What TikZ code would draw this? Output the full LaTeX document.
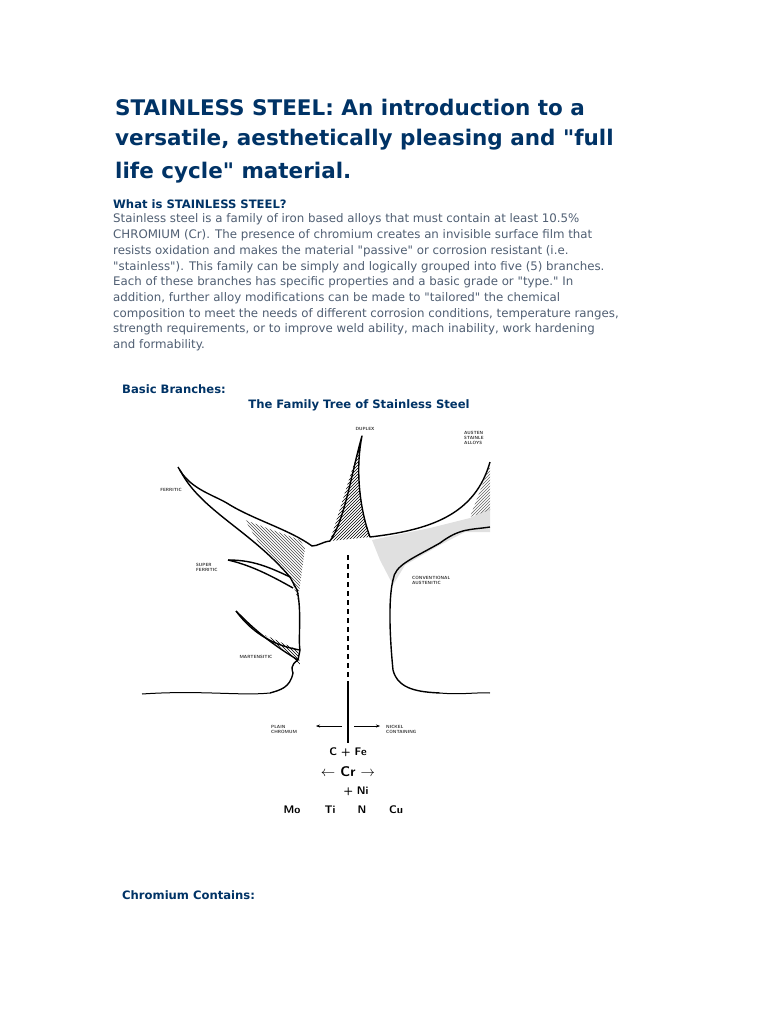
\documentclass[tikz,border=0pt]{standalone}
\usepackage{fontspec}
\setmainfont{DejaVu Sans}[Ligatures=TeXOff]
\usetikzlibrary{patterns,arrows.meta}
\definecolor{navy}{RGB}{0,51,102}
\definecolor{bodyc}{RGB}{80,95,115}
\newcommand\dq{\symbol{34}}
\begin{document}
\begin{tikzpicture}[x=1pt,y=-1pt,
  ttl/.style={anchor=west,inner sep=0,font=\fontsize{21.5}{26}\selectfont\bfseries,text=navy},
  bod/.style={anchor=west,inner sep=0,font=\fontsize{11.8}{14}\selectfont,text=bodyc},
  hd/.style={anchor=west,inner sep=0,font=\fontsize{11.6}{14}\selectfont\bfseries,text=navy},
  lbl/.style={inner sep=0,font=\fontsize{4.5}{5}\selectfont\sffamily\bfseries,align=left,text=black!80},
  chem/.style={inner sep=0,font=\fontsize{11}{12}\selectfont\sffamily\bfseries},
  tree/.style={line width=1.4pt,line join=round}]
\useasboundingbox (0,0) rectangle (768,1024);
\fill[white] (0,0) rectangle (768,1024);
\node[ttl] (t1) at (115,107) {STAINLESS STEEL: An introduction to a};
\node[ttl] (t2) at (115,140) {versatile, aesthetically pleasing and \dq full};
\node[ttl] (t3) at (115,173) {life cycle\dq\ material.};
\node[hd] (h1) at (113,204) {What is STAINLESS STEEL?};
\node[bod] (b1) at (113,219) {Stainless steel is a family of iron based alloys that must contain at least 10.5\%};
\node[bod] (b2) at (113,235) {CHROMIUM (Cr). The presence of chromium creates an invisible surface film that};
\node[bod] (b3) at (113,251) {resists oxidation and makes the material \dq passive\dq\ or corrosion resistant (i.e.};
\node[bod] (b4) at (113,267) {\dq stainless\dq). This family can be simply and logically grouped into five (5) branches.};
\node[bod] (b5) at (113,282) {Each of these branches has specific properties and a basic grade or \dq type.\dq\ In};
\node[bod] (b6) at (113,298) {addition, further alloy modifications can be made to \dq tailored\dq\ the chemical};
\node[bod] (b7) at (113,314) {composition to meet the needs of different corrosion conditions, temperature ranges,};
\node[bod] (b8) at (113,329) {strength requirements, or to improve weld ability, mach inability, work hardening};
\node[bod] (b9) at (113,345) {and formability.};
\node[hd] (h2) at (122,389) {Basic Branches:};
\node[hd,anchor=center] (h3) at (359,405) {The Family Tree of Stainless Steel};
\node[hd] (h4) at (122,895) {Chromium Contains:};
% shaded regions
\fill[pattern=north east lines] (330,541) -- (352,470) -- (360,448) -- (362,436) -- (358,470) -- (362,510) -- (370,537) -- cycle;
\fill[pattern=north west lines,pattern color=black!70] (245,520) -- (300,540) -- (305,548) -- (298,600) -- (290,575) -- (260,545) -- cycle;
\fill[black!12] (372,540) -- (430,528) -- (470,518) -- (490,508) -- (490,532) -- (465,532) -- (440,545) -- (405,565) -- (393,585) -- (380,560) -- cycle;
\fill[pattern=north east lines,pattern color=black!60] (470,517) -- (490,465) -- (490,510) -- cycle;
\fill[pattern=north west lines] (265,635) -- (298,650) -- (300,665) -- (290,655) -- cycle;
% tree outline
\draw[tree] (178,467) .. controls (190,490) and (215,495) .. (230,505) .. controls (255,520) and (290,530) .. (312,546)
  .. controls (318,546) and (322,542) .. (330,541) .. controls (345,520) and (352,470) .. (362,436)
  .. controls (355,470) and (360,510) .. (370,537) .. controls (430,530) and (475,515) .. (490,462);
\draw[tree] (490,527) .. controls (470,530) and (460,528) .. (440,543) .. controls (410,560) and (395,565) .. (393,580)
  .. controls (388,600) and (390,640) .. (393,670) .. controls (398,690) and (420,692) .. (440,693);
\draw[tree] (180,470) .. controls (200,510) and (250,530) .. (290,577) -- (297,590)
  .. controls (302,610) and (298,640) .. (300,650) -- (298,660) .. controls (290,665) and (292,670) .. (293,673) .. controls (290,688) and (280,690) .. (270,693);
\draw[tree] (228,560) .. controls (250,565) and (270,575) .. (293,588);
\draw[tree] (228,560) .. controls (250,560) and (265,565) .. (290,577);
\draw[tree] (236,611) .. controls (250,630) and (270,645) .. (300,650);
\draw[tree] (236,611) .. controls (250,625) and (265,640) .. (298,660);
\draw[line width=1pt] (142,694) .. controls (200,690) and (240,696) .. (270,693);
\draw[line width=1pt] (440,693) .. controls (460,695) and (480,692) .. (490,693);
% stem
\coordinate (ds) at (348,555);
\coordinate (dm) at (348,682);
\coordinate (de) at (348,743);
\draw[line width=1.3pt,dash pattern=on 5pt off 4pt] (ds) -- (dm);
\draw[line width=1.3pt] (dm) -- (de);
\coordinate (al) at (342,726); \coordinate (alx) at (316,726);
\coordinate (ar) at (354,726); \coordinate (arx) at (380,726);
\draw[-{Stealth[length=4pt]}] (al) -- (alx);
\draw[-{Stealth[length=4pt]}] (ar) -- (arx);
\node[lbl] (l1) at (365,429) {DUPLEX};
\node[lbl,anchor=west] (l2) at (464,438) {AUSTEN\\STAINLE\\ALLOYS};
\node[lbl] (l3) at (171,490) {FERRITIC};
\node[lbl,anchor=west] (l4) at (196,567) {SUPER\\FERRITIC};
\node[lbl] (l5) at (256,657) {MARTENSITIC};
\node[lbl,anchor=west] (l6) at (412,580) {CONVENTIONAL\\AUSTENITIC};
\node[lbl,anchor=west] (l7) at (271,729) {PLAIN\\CHROMUM};
\node[lbl,anchor=west] (l8) at (386,729) {NICKEL\\CONTAINING};
\node[chem] (c1) at (348,752) {C + Fe};
\node[chem,font=\fontsize{14}{15}\selectfont\sffamily\bfseries] (c2) at (348,772) {$\leftarrow$ Cr $\rightarrow$};
\node[chem] (c3) at (356,791) {+ Ni};
\node[chem] (m1) at (292,810) {Mo};
\node[chem] (m2) at (330,810) {Ti};
\node[chem] (m3) at (362,810) {N};
\node[chem] (m4) at (396,810) {Cu};
\end{tikzpicture}
\end{document}
